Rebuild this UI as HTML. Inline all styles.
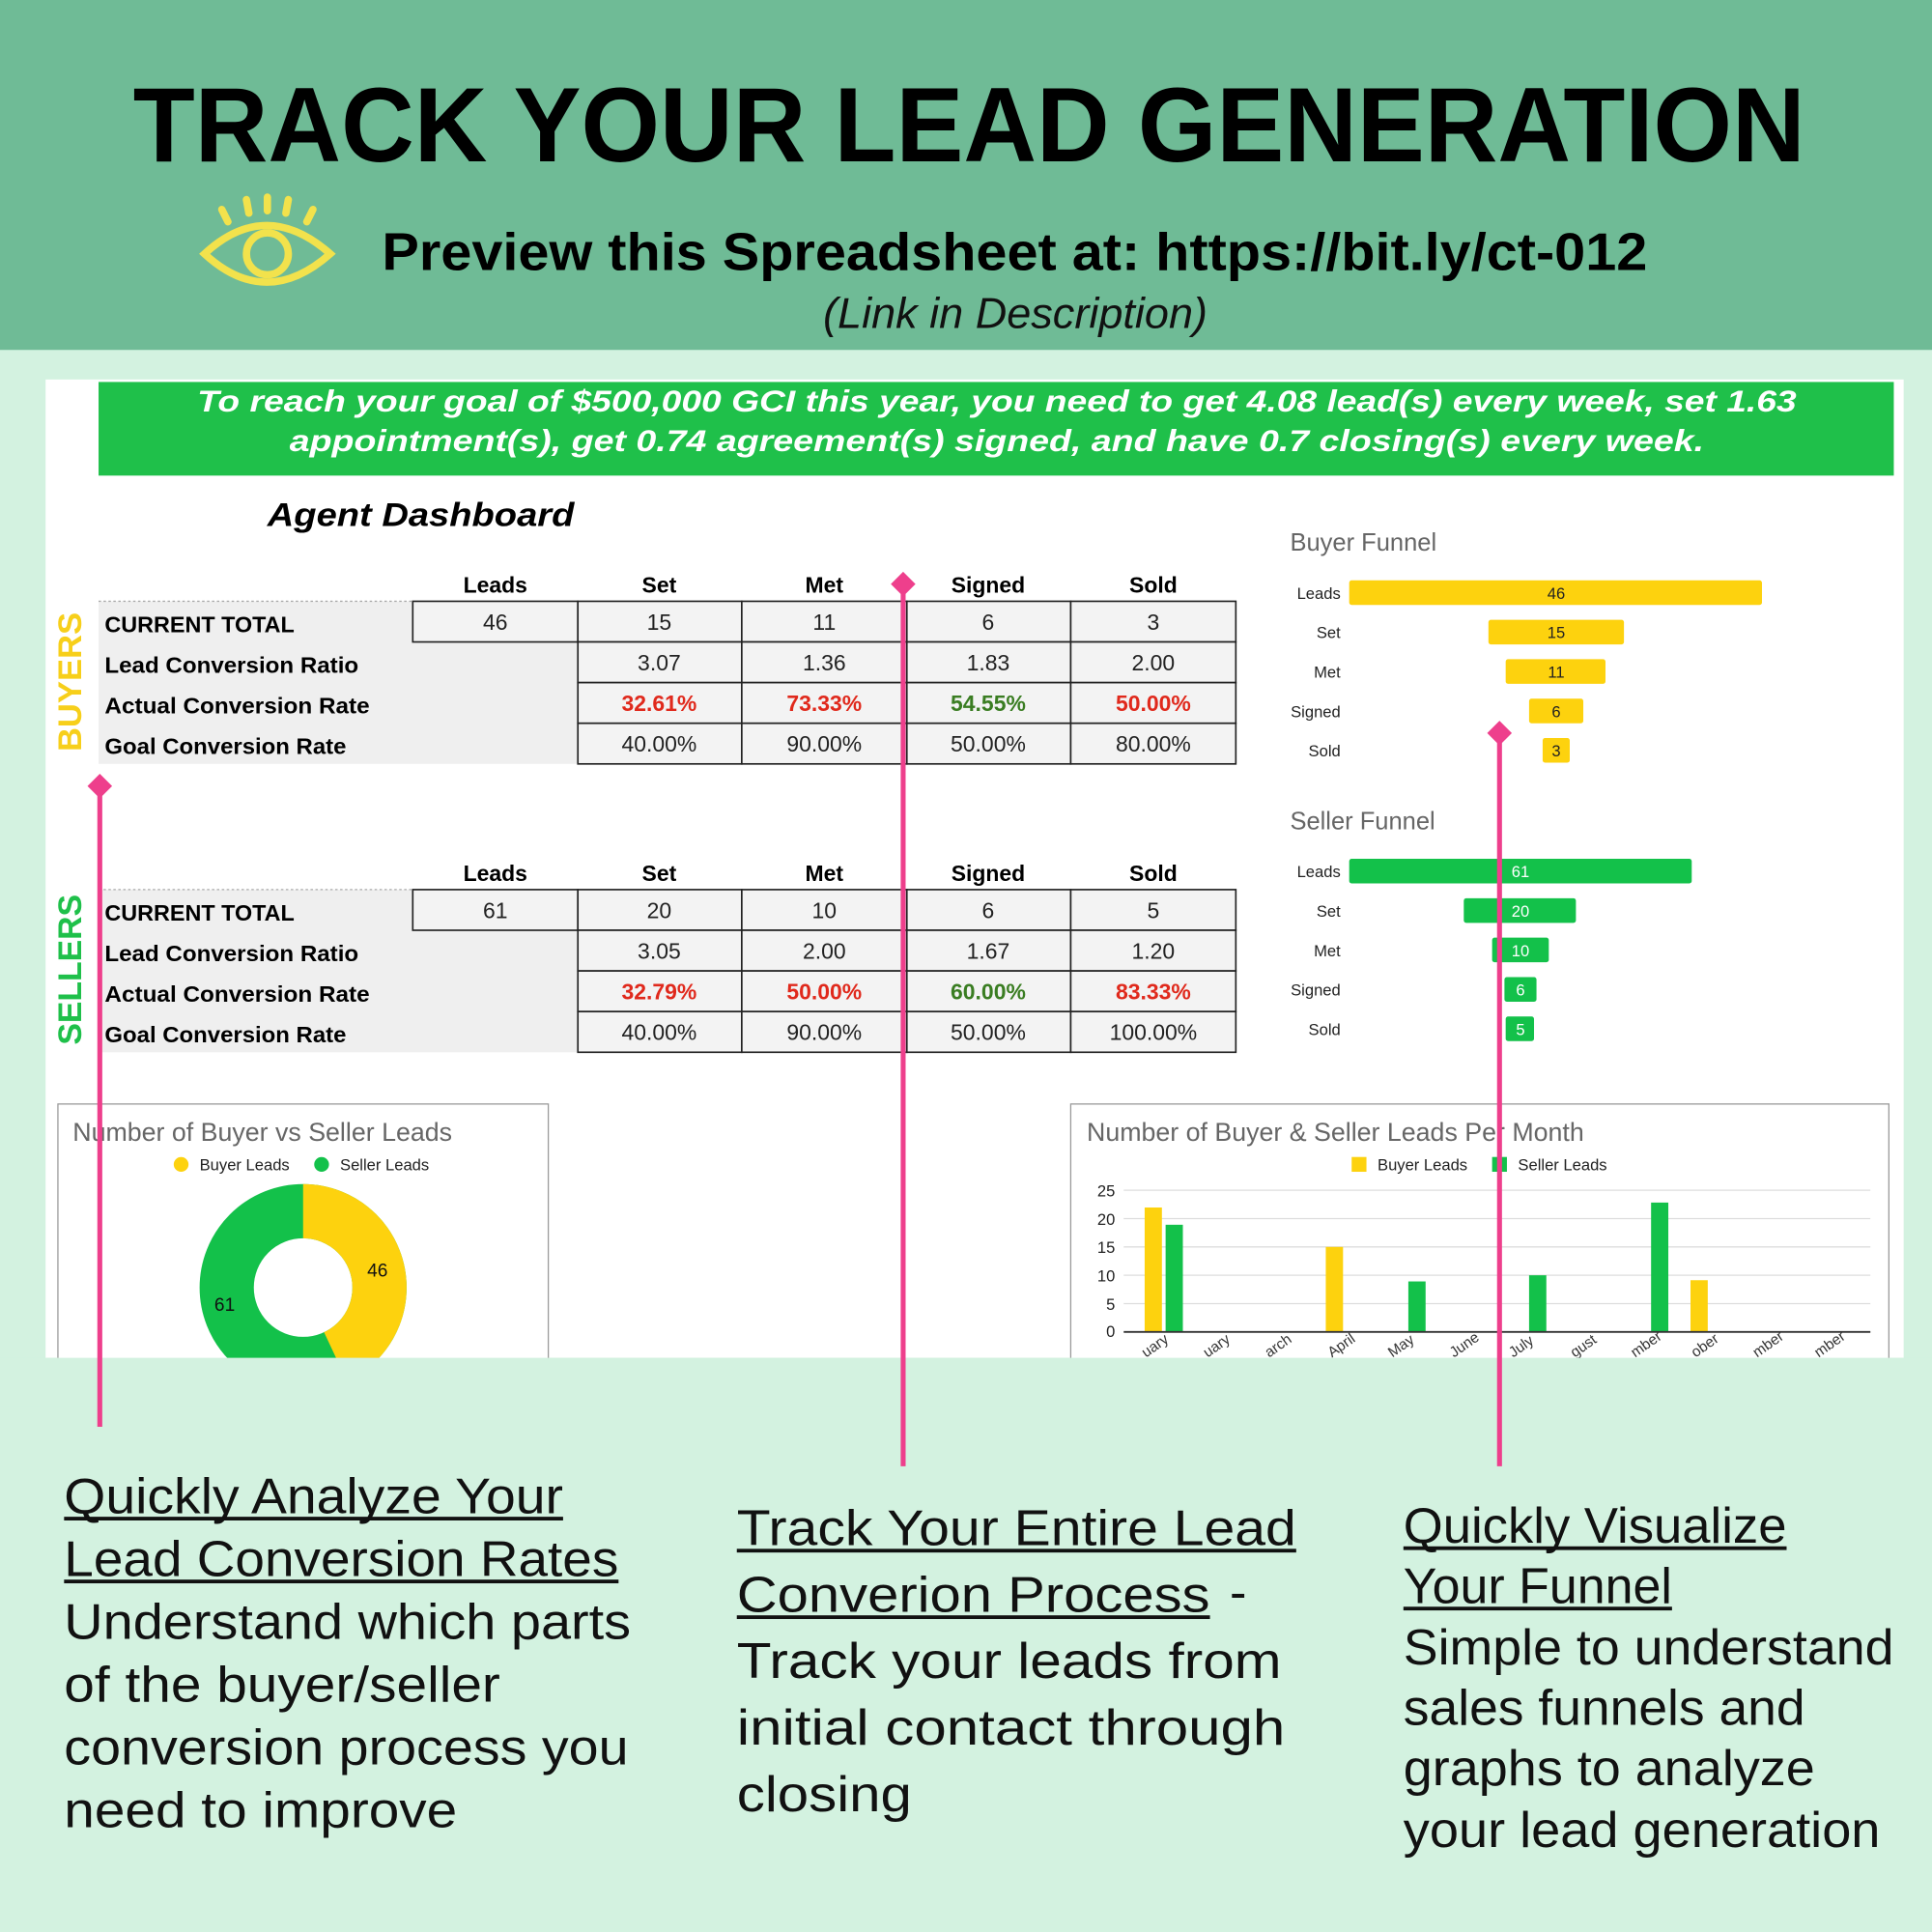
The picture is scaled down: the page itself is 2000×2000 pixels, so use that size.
<!DOCTYPE html>
<html><head><meta charset="utf-8"><style>
html,body{margin:0;padding:0;background:#d3f2e0;}
svg{display:block}
text{font-family:"Liberation Sans",sans-serif;}
</style></head><body>
<svg width="2000" height="2000" viewBox="0 0 1568 1568" xmlns="http://www.w3.org/2000/svg">
<rect x="0" y="0" width="1568" height="1568" fill="#d3f2e0"/>
<rect x="0" y="0" width="1568" height="284" fill="#6fbb96"/>
<text x="108" y="131" font-size="86" font-weight="bold" textLength="1357" lengthAdjust="spacingAndGlyphs" fill="#000">TRACK YOUR LEAD GENERATION</text>
<!-- eye -->
<g fill="none" stroke="#f2e24c" stroke-width="6" stroke-linecap="round">
<path d="M166 206 Q216 160 268 206 Q216 252 166 206 Z"/>
<circle cx="217" cy="206" r="17"/>
<line x1="185" y1="180" x2="180" y2="170"/><line x1="202" y1="173" x2="200" y2="162"/><line x1="217" y1="171" x2="217" y2="160"/><line x1="232" y1="173" x2="234" y2="162"/><line x1="249" y1="180" x2="254" y2="170"/>
</g>
<text x="310" y="219" font-size="43" font-weight="bold" textLength="1027" lengthAdjust="spacingAndGlyphs" fill="#000">Preview this Spreadsheet at: https://bit.ly/ct-012</text>
<text x="668" y="266" font-size="35" font-style="italic" textLength="312" lengthAdjust="spacingAndGlyphs" fill="#111">(Link in Description)</text>

<rect x="37" y="308" width="1508" height="794" fill="#fff"/>
<rect x="80" y="310" width="1457" height="76" fill="#1fc04a"/>
<text x="160" y="334" font-size="25" font-weight="bold" font-style="italic" fill="#fff" textLength="1298" lengthAdjust="spacingAndGlyphs">To reach your goal of $500,000 GCI this year, you need to get 4.08 lead(s) every week, set 1.63</text>
<text x="235" y="366" font-size="25" font-weight="bold" font-style="italic" fill="#fff" textLength="1148" lengthAdjust="spacingAndGlyphs">appointment(s), get 0.74 agreement(s) signed, and have 0.7 closing(s) every week.</text>
<text x="217" y="427" font-size="27" font-weight="bold" font-style="italic" fill="#000" textLength="249" lengthAdjust="spacingAndGlyphs">Agent Dashboard</text>

<!-- BUYERS table -->
<g>
<rect x="80" y="488" width="389" height="132" fill="#efefef"/>
<line x1="80" y1="488" x2="335" y2="488" stroke="#aaa" stroke-dasharray="2 2"/>
<rect x="335" y="488" width="134" height="33" fill="#f3f3f3" stroke="#222" stroke-width="1.3"/>
<g fill="#f3f3f3" stroke="#222" stroke-width="1.3">
<rect x="469" y="488" width="133" height="33"/><rect x="602" y="488" width="134" height="33"/><rect x="736" y="488" width="133" height="33"/><rect x="869" y="488" width="134" height="33"/>
<rect x="469" y="521" width="133" height="33"/><rect x="602" y="521" width="134" height="33"/><rect x="736" y="521" width="133" height="33"/><rect x="869" y="521" width="134" height="33"/>
<rect x="469" y="554" width="133" height="33"/><rect x="602" y="554" width="134" height="33"/><rect x="736" y="554" width="133" height="33"/><rect x="869" y="554" width="134" height="33"/>
<rect x="469" y="587" width="133" height="33"/><rect x="602" y="587" width="134" height="33"/><rect x="736" y="587" width="133" height="33"/><rect x="869" y="587" width="134" height="33"/>
</g>
<g font-size="18" font-weight="bold" text-anchor="middle" fill="#000">
<text x="402" y="481">Leads</text><text x="535" y="481">Set</text><text x="669" y="481">Met</text><text x="802" y="481">Signed</text><text x="936" y="481">Sold</text>
</g>
<g font-size="18" font-weight="bold" fill="#000">
<text x="85" y="513" textLength="154" lengthAdjust="spacingAndGlyphs">CURRENT TOTAL</text>
<text x="85" y="546" textLength="206" lengthAdjust="spacingAndGlyphs">Lead Conversion Ratio</text>
<text x="85" y="579" textLength="215" lengthAdjust="spacingAndGlyphs">Actual Conversion Rate</text>
<text x="85" y="612" textLength="196" lengthAdjust="spacingAndGlyphs">Goal Conversion Rate</text>
</g>
<g font-size="18" text-anchor="middle" fill="#222">
<text x="402" y="511">46</text><text x="535" y="511">15</text><text x="669" y="511">11</text><text x="802" y="511">6</text><text x="936" y="511">3</text>
<text x="535" y="544">3.07</text><text x="669" y="544">1.36</text><text x="802" y="544">1.83</text><text x="936" y="544">2.00</text>
<text x="535" y="610">40.00%</text><text x="669" y="610">90.00%</text><text x="802" y="610">50.00%</text><text x="936" y="610">80.00%</text>
</g>
<g font-size="18" font-weight="bold" text-anchor="middle">
<text x="535" y="577" fill="#e0291c">32.61%</text><text x="669" y="577" fill="#e0291c">73.33%</text><text x="802" y="577" fill="#3a7d22">54.55%</text><text x="936" y="577" fill="#e0291c">50.00%</text>
</g>
<text transform="translate(66,610) rotate(-90)" font-size="27" font-weight="bold" fill="#f7cf1a" textLength="113" lengthAdjust="spacingAndGlyphs">BUYERS</text>
</g>

<!-- SELLERS table -->
<g transform="translate(0,234)">
<rect x="80" y="488" width="389" height="132" fill="#efefef"/>
<line x1="80" y1="488" x2="335" y2="488" stroke="#aaa" stroke-dasharray="2 2"/>
<rect x="335" y="488" width="134" height="33" fill="#f3f3f3" stroke="#222" stroke-width="1.3"/>
<g fill="#f3f3f3" stroke="#222" stroke-width="1.3">
<rect x="469" y="488" width="133" height="33"/><rect x="602" y="488" width="134" height="33"/><rect x="736" y="488" width="133" height="33"/><rect x="869" y="488" width="134" height="33"/>
<rect x="469" y="521" width="133" height="33"/><rect x="602" y="521" width="134" height="33"/><rect x="736" y="521" width="133" height="33"/><rect x="869" y="521" width="134" height="33"/>
<rect x="469" y="554" width="133" height="33"/><rect x="602" y="554" width="134" height="33"/><rect x="736" y="554" width="133" height="33"/><rect x="869" y="554" width="134" height="33"/>
<rect x="469" y="587" width="133" height="33"/><rect x="602" y="587" width="134" height="33"/><rect x="736" y="587" width="133" height="33"/><rect x="869" y="587" width="134" height="33"/>
</g>
<g font-size="18" font-weight="bold" text-anchor="middle" fill="#000">
<text x="402" y="481">Leads</text><text x="535" y="481">Set</text><text x="669" y="481">Met</text><text x="802" y="481">Signed</text><text x="936" y="481">Sold</text>
</g>
<g font-size="18" font-weight="bold" fill="#000">
<text x="85" y="513" textLength="154" lengthAdjust="spacingAndGlyphs">CURRENT TOTAL</text>
<text x="85" y="546" textLength="206" lengthAdjust="spacingAndGlyphs">Lead Conversion Ratio</text>
<text x="85" y="579" textLength="215" lengthAdjust="spacingAndGlyphs">Actual Conversion Rate</text>
<text x="85" y="612" textLength="196" lengthAdjust="spacingAndGlyphs">Goal Conversion Rate</text>
</g>
<g font-size="18" text-anchor="middle" fill="#222">
<text x="402" y="511">61</text><text x="535" y="511">20</text><text x="669" y="511">10</text><text x="802" y="511">6</text><text x="936" y="511">5</text>
<text x="535" y="544">3.05</text><text x="669" y="544">2.00</text><text x="802" y="544">1.67</text><text x="936" y="544">1.20</text>
<text x="535" y="610">40.00%</text><text x="669" y="610">90.00%</text><text x="802" y="610">50.00%</text><text x="936" y="610">100.00%</text>
</g>
<g font-size="18" font-weight="bold" text-anchor="middle">
<text x="535" y="577" fill="#e0291c">32.79%</text><text x="669" y="577" fill="#e0291c">50.00%</text><text x="802" y="577" fill="#3a7d22">60.00%</text><text x="936" y="577" fill="#e0291c">83.33%</text>
</g>
<text transform="translate(66,614) rotate(-90)" font-size="27" font-weight="bold" fill="#1fc04a" textLength="122" lengthAdjust="spacingAndGlyphs">SELLERS</text>
</g>

<!-- Buyer funnel -->
<text x="1047" y="447" font-size="20" fill="#666">Buyer Funnel</text>
<g fill="#fdd20e">
<rect x="1095" y="471" width="335" height="20" rx="2"/><rect x="1208" y="503" width="110" height="20" rx="2"/><rect x="1222" y="535" width="81" height="20" rx="2"/><rect x="1241" y="567" width="44" height="20" rx="2"/><rect x="1252" y="599" width="22" height="20" rx="2"/>
</g>
<g font-size="13" fill="#222" text-anchor="end">
<text x="1088" y="486">Leads</text><text x="1088" y="518">Set</text><text x="1088" y="550">Met</text><text x="1088" y="582">Signed</text><text x="1088" y="614">Sold</text>
</g>
<g font-size="13" fill="#222" text-anchor="middle">
<text x="1263" y="486">46</text><text x="1263" y="518">15</text><text x="1263" y="550">11</text><text x="1263" y="582">6</text><text x="1263" y="614">3</text>
</g>
<!-- Seller funnel -->
<text x="1047" y="673" font-size="20" fill="#666">Seller Funnel</text>
<g fill="#13c14a">
<rect x="1095" y="697" width="278" height="20" rx="2"/><rect x="1188" y="729" width="91" height="20" rx="2"/><rect x="1211" y="761" width="46" height="20" rx="2"/><rect x="1221" y="793" width="26" height="20" rx="2"/><rect x="1222" y="825" width="23" height="20" rx="2"/>
</g>
<g font-size="13" fill="#222" text-anchor="end">
<text x="1088" y="712">Leads</text><text x="1088" y="744">Set</text><text x="1088" y="776">Met</text><text x="1088" y="808">Signed</text><text x="1088" y="840">Sold</text>
</g>
<g font-size="13" fill="#fff" text-anchor="middle">
<text x="1234" y="712">61</text><text x="1234" y="744">20</text><text x="1234" y="776">10</text><text x="1234" y="808">6</text><text x="1234" y="840">5</text>
</g>

<!-- donut chart -->
<rect x="47" y="896" width="398" height="220" fill="#fff" stroke="#999" stroke-width="1"/>
<text x="59" y="926" font-size="21" fill="#666">Number of Buyer vs Seller Leads</text>
<circle cx="147" cy="945" r="6" fill="#fdd20e"/><text x="162" y="950" font-size="13" fill="#222">Buyer Leads</text>
<circle cx="261" cy="945" r="6" fill="#13c14a"/><text x="276" y="950" font-size="13" fill="#222">Seller Leads</text>
<circle cx="246" cy="1045" r="62" fill="none" stroke="#13c14a" stroke-width="44"/>
<circle cx="246" cy="1045" r="62" fill="none" stroke="#fdd20e" stroke-width="44" stroke-dasharray="167.5 400" transform="rotate(-90 246 1045)"/>
<text x="298" y="1036" font-size="15" fill="#111">46</text>
<text x="174" y="1064" font-size="15" fill="#111">61</text>

<!-- bar chart -->
<rect x="869" y="896" width="664" height="220" fill="#fff" stroke="#999" stroke-width="1"/>
<text x="882" y="926" font-size="21" fill="#666">Number of Buyer &amp; Seller Leads Per Month</text>
<rect x="1097" y="939" width="12" height="12" fill="#fdd20e"/><text x="1118" y="950" font-size="13" fill="#222">Buyer Leads</text>
<rect x="1211" y="939" width="12" height="12" fill="#13c14a"/><text x="1232" y="950" font-size="13" fill="#222">Seller Leads</text>
<g stroke="#ddd" stroke-width="1">
<line x1="912" y1="966" x2="1518" y2="966"/><line x1="912" y1="989" x2="1518" y2="989"/><line x1="912" y1="1012" x2="1518" y2="1012"/><line x1="912" y1="1035" x2="1518" y2="1035"/><line x1="912" y1="1058" x2="1518" y2="1058"/>
</g>
<g font-size="13" fill="#222" text-anchor="end">
<text x="905" y="971">25</text><text x="905" y="994">20</text><text x="905" y="1017">15</text><text x="905" y="1040">10</text><text x="905" y="1063">5</text><text x="905" y="1085">0</text>
</g>
<g fill="#fdd20e">
<rect x="929" y="980" width="14" height="101"/><rect x="1076" y="1012" width="14" height="69"/><rect x="1372" y="1039" width="14" height="42"/>
</g>
<g fill="#13c14a">
<rect x="946" y="994" width="14" height="87"/><rect x="1143" y="1040" width="14" height="41"/><rect x="1241" y="1035" width="14" height="46"/><rect x="1340" y="976" width="14" height="105"/>
</g>
<line x1="912" y1="1081" x2="1518" y2="1081" stroke="#333" stroke-width="1.5"/>
<g font-size="12" fill="#333">
<text transform="translate(930,1102) rotate(-35)">uary</text><text transform="translate(980,1102) rotate(-35)">uary</text><text transform="translate(1030,1102) rotate(-35)">arch</text><text transform="translate(1081,1102) rotate(-35)">April</text><text transform="translate(1130,1102) rotate(-35)">May</text><text transform="translate(1180,1102) rotate(-35)">June</text><text transform="translate(1228,1102) rotate(-35)">July</text><text transform="translate(1278,1102) rotate(-35)">gust</text><text transform="translate(1327,1102) rotate(-35)">mber</text><text transform="translate(1376,1102) rotate(-35)">ober</text><text transform="translate(1426,1102) rotate(-35)">mber</text><text transform="translate(1476,1102) rotate(-35)">mber</text>
</g>
<rect x="0" y="1102" width="1568" height="40" fill="#d3f2e0"/>

<!-- pink pointers -->
<g fill="#ee3f8c" stroke="#ee3f8c">
<line x1="81" y1="640" x2="81" y2="1158" stroke-width="4"/><path d="M81 628 L91 638 L81 648 L71 638 Z" stroke="none"/>
<line x1="733" y1="476" x2="733" y2="1190" stroke-width="4"/><path d="M733 464 L743 474 L733 484 L723 474 Z" stroke="none"/>
<line x1="1217" y1="597" x2="1217" y2="1190" stroke-width="4"/><path d="M1217 585 L1227 595 L1217 605 L1207 595 Z" stroke="none"/>
</g>

<!-- bottom text -->
<g font-size="41" fill="#111">
<text x="52" y="1228" textLength="405" lengthAdjust="spacingAndGlyphs">Quickly Analyze Your</text>
<text x="52" y="1279" textLength="450" lengthAdjust="spacingAndGlyphs">Lead Conversion Rates</text>
<text x="52" y="1330" textLength="460" lengthAdjust="spacingAndGlyphs">Understand which parts</text>
<text x="52" y="1381" textLength="354" lengthAdjust="spacingAndGlyphs">of the buyer/seller</text>
<text x="52" y="1432" textLength="458" lengthAdjust="spacingAndGlyphs">conversion process you</text>
<text x="52" y="1483" textLength="319" lengthAdjust="spacingAndGlyphs">need to improve</text>

<text x="598" y="1254" textLength="454" lengthAdjust="spacingAndGlyphs">Track Your Entire Lead</text>
<text x="598" y="1308" textLength="384" lengthAdjust="spacingAndGlyphs">Converion Process</text><text x="998" y="1306">-</text>
<text x="598" y="1362" textLength="442" lengthAdjust="spacingAndGlyphs">Track your leads from</text>
<text x="598" y="1416" textLength="445" lengthAdjust="spacingAndGlyphs">initial contact through</text>
<text x="598" y="1470" textLength="142" lengthAdjust="spacingAndGlyphs">closing</text>

<text x="1139" y="1252" textLength="311" lengthAdjust="spacingAndGlyphs">Quickly Visualize</text>
<text x="1139" y="1301" textLength="218" lengthAdjust="spacingAndGlyphs">Your Funnel</text>
<text x="1139" y="1351" textLength="398" lengthAdjust="spacingAndGlyphs">Simple to understand</text>
<text x="1139" y="1400" textLength="326" lengthAdjust="spacingAndGlyphs">sales funnels and</text>
<text x="1139" y="1449" textLength="334" lengthAdjust="spacingAndGlyphs">graphs to analyze</text>
<text x="1139" y="1499" textLength="387" lengthAdjust="spacingAndGlyphs">your lead generation</text>
</g>
<g fill="#111">
<rect x="52" y="1231" width="405" height="3"/><rect x="52" y="1282" width="450" height="3"/>
<rect x="598" y="1257" width="454" height="3"/><rect x="598" y="1311" width="384" height="3"/>
<rect x="1139" y="1255" width="311" height="3"/><rect x="1139" y="1304" width="218" height="3"/>
</g>
</svg>
</body></html>
